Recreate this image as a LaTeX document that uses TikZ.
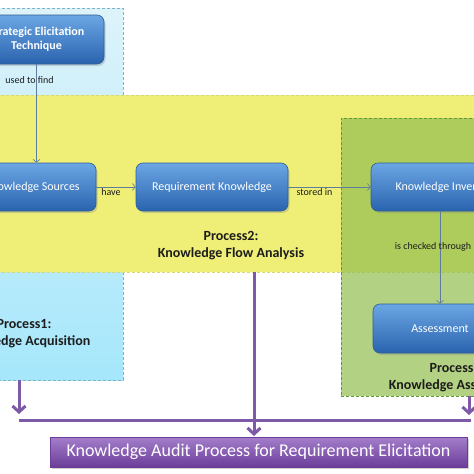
\documentclass[tikz,border=0pt]{standalone}
\usepackage{fontspec}
\setmainfont{Carlito}
\usetikzlibrary{arrows.meta,shadows}
\definecolor{cyTop}{HTML}{DDF3FA}
\definecolor{cyBot}{HTML}{A6E7FB}
\definecolor{cyLine}{HTML}{7FB3C4}
\definecolor{yel}{HTML}{EFEF78}
\definecolor{yelLine}{HTML}{D6D67A}
\definecolor{grn}{HTML}{93BE4F}
\definecolor{grnLine}{HTML}{5E9A3A}
\definecolor{blTop}{HTML}{6BA6E4}
\definecolor{blBot}{HTML}{2A63AE}
\definecolor{blLine}{HTML}{2D5E98}
\definecolor{thinArr}{HTML}{5C7D9C}
\definecolor{purp}{HTML}{7D5AA8}
\definecolor{puTop}{HTML}{A47ECB}
\definecolor{puBot}{HTML}{6B3D98}
\definecolor{txt}{HTML}{1C1C1C}
\begin{document}
\begin{tikzpicture}[x=1pt,y=-1pt,
  region/.style={rectangle, dashed, line width=0.7pt, inner sep=0pt, dash pattern=on 3pt off 2pt},
  bluebox/.style={rectangle, rounded corners=7pt, draw=blLine, line width=0.6pt,
    top color=blTop, bottom color=blBot, text=white, align=center, inner sep=0pt,
    font=\fontsize{12}{14}\selectfont,
    drop shadow={opacity=0.3, shadow xshift=1.5pt, shadow yshift=-2pt}},
  lbl/.style={text=txt, font=\fontsize{10}{12}\selectfont, inner sep=1pt},
  plbl/.style={text=txt, font=\fontsize{14}{17}\selectfont\bfseries, align=center, inner sep=0pt},
  thin/.style={draw=thinArr, line width=0.6pt, -{Straight Barb[length=3pt,width=7pt]}},
  fat/.style={draw=purp, line width=3pt, -{Straight Barb[length=6pt,width=13pt]}},
  fatline/.style={draw=purp, line width=3pt}]
\useasboundingbox (0,0) rectangle (474,474);
\clip (0,0) rectangle (474,474);
\fill[white] (0,0) rectangle (474,474);
% regions
\node[region, draw=cyLine, top color=cyTop, bottom color=cyBot,
  minimum width=140pt, minimum height=372pt] (p1) at (53,194) {};
\node[region, draw=yelLine, fill=yel,
  minimum width=500pt, minimum height=177pt] (p2) at (237,183.5) {};
\node[region, draw=grnLine, fill=grn, fill opacity=0.7, draw opacity=1,
  minimum width=149pt, minimum height=278pt] (p3) at (415.5,257) {};
% process labels
\node[plbl] (p1l) at (24,334) {Process1:\\Knowledge Acquisition};
\node[plbl] (p2l) at (231,245.5) {Process2:\\Knowledge Flow Analysis};
\node[plbl] (p3l) at (457,378) {Process3:\\Knowledge Assessment};
% boxes
\node[bluebox, font=\fontsize{12}{14}\selectfont\bfseries, minimum width=135pt, minimum height=49pt] (strat) at (36.5,39.5) {Strategic Elicitation\\Technique};
\node[bluebox, minimum width=127pt, minimum height=48pt] (ks) at (32.5,187) {Knowledge Sources};
\node[bluebox, minimum width=152pt, minimum height=48pt] (rk) at (212,187) {Requirement Knowledge};
\node[bluebox, minimum width=152pt, minimum height=48pt] (ki) at (447,187) {Knowledge Inventory};
\node[bluebox, minimum width=134pt, minimum height=49pt] (as) at (440,328.5) {Assessment};
% thin connectors
\draw[thin] (strat.south) -- node[lbl, pos=0.16, xshift=-7pt, fill=none] (l1) {used to find} (strat.south |- ks.north);
\draw[thin] (ks.east) -- node[lbl, below, xshift=-5pt] (l2) {have} (rk.west);
\draw[thin] (rk.east) -- node[lbl, below, xshift=-15pt] (l3) {stored in} (ki.west);
\draw[thin] (ki.south -| as.north) -- node[lbl, xshift=-7pt, yshift=10.5pt] (l4) {is checked through} (as.north);
% purple audit box
\node[rectangle, top color=puTop, bottom color=puBot, draw=puBot, line width=0.5pt,
  text=white, font=\fontsize{18}{20}\selectfont, minimum width=417pt, minimum height=30pt, inner sep=0pt,
  drop shadow={opacity=0.35, shadow xshift=2pt, shadow yshift=-2pt}] (audit) at (258.5,452) {Knowledge Audit Process for Requirement Elicitation};
% purple connectors
\coordinate (busL) at (19,420);
\coordinate (busR) at (471,420);
\coordinate (tipL) at (19,414);
\coordinate (tipR) at (469,415);
\coordinate (tipM) at (254,436);
\draw[fatline] (busL) -- (busR);
\draw[fat] (p1.south -| tipL) -- (tipL);
\draw[fat] (p3.south -| tipR) -- (tipR);
\draw[fat] (p2.south -| tipM) -- (tipM);
\end{tikzpicture}
\end{document}
